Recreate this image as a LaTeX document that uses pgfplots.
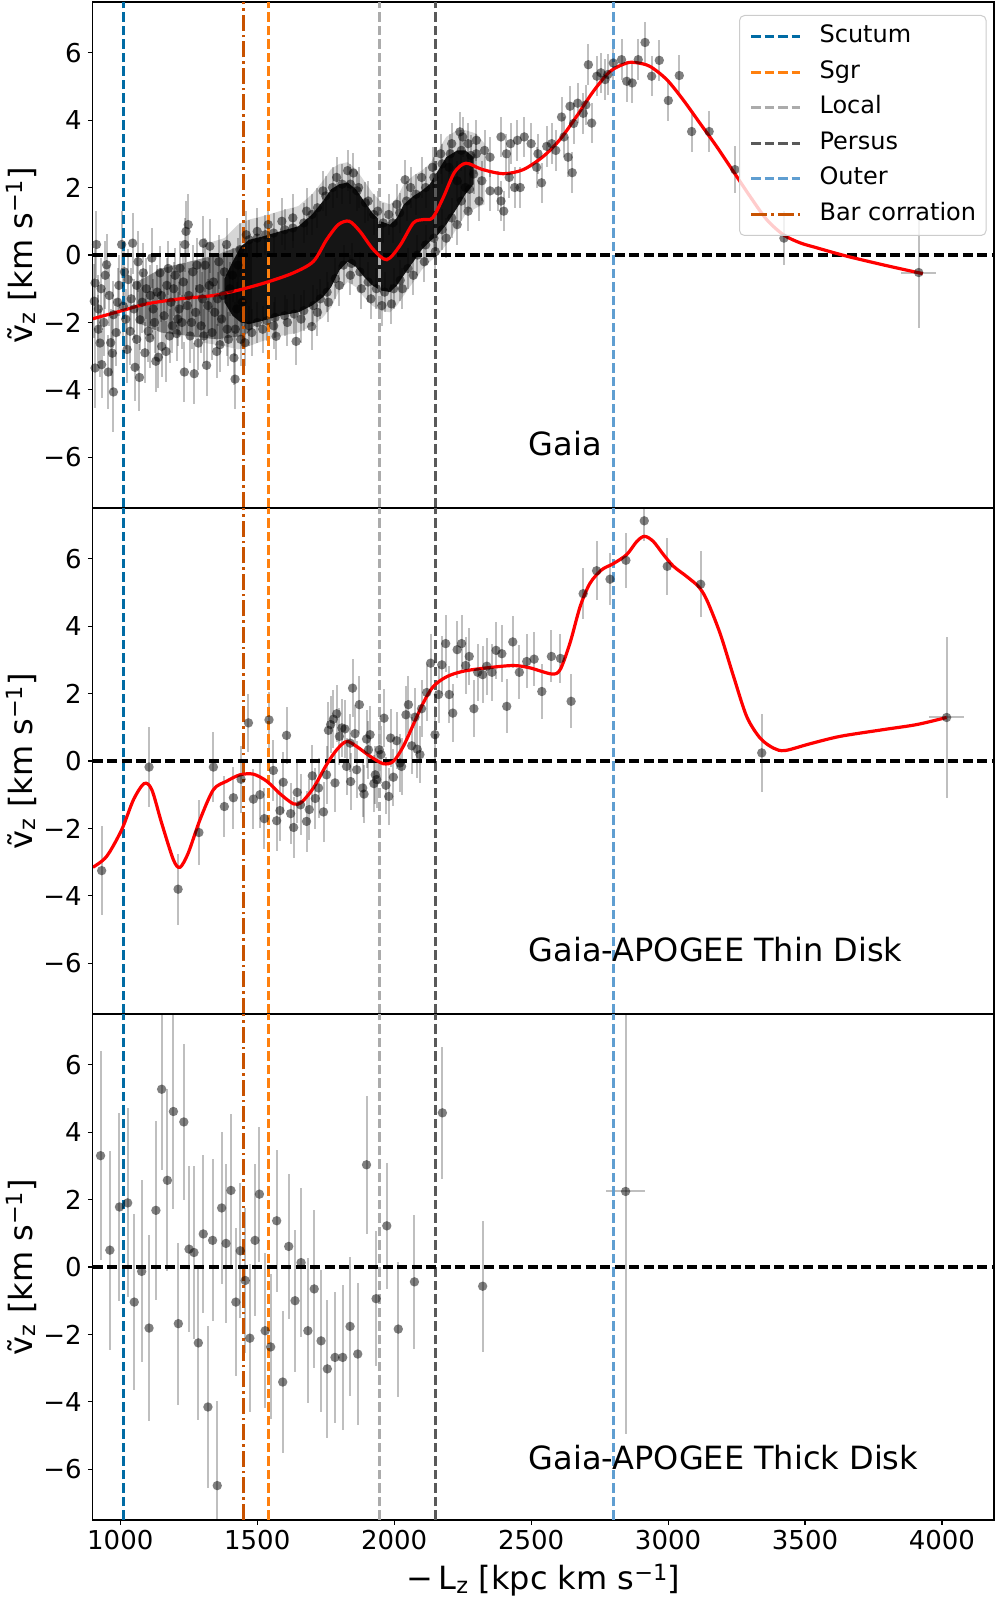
\documentclass[border=0pt]{standalone}
\usepackage{fontspec}
\setmainfont{DejaVu Sans}
\usepackage{pgfplots}
\pgfplotsset{compat=1.18}
\definecolor{cScutum}{HTML}{006BA4}
\definecolor{cSgr}{HTML}{FF800E}
\definecolor{cLocal}{HTML}{ABABAB}
\definecolor{cPersus}{HTML}{595959}
\definecolor{cOuter}{HTML}{5F9ED1}
\definecolor{cBar}{HTML}{C85200}
\newcommand{\fs}[1]{\fontsize{#1}{#1}\selectfont}
\pgfplotsset{
 panel/.style={
  scale only axis, width=901.1pt, height=506pt,
  xmin=900, xmax=4190, ymin=-7.5, ymax=7.5,
  axis line style={line width=1.1pt},
  ytick={-6,-4,-2,0,2,4,6}, yticklabels={−6,−4,−2,0,2,4,6},
  ytick pos=left, xtick pos=left,
  tick align=outside, major tick length=5pt,
  every tick/.style={black, line width=1.1pt},
  yticklabel style={font=\fs{26}, inner sep=0pt, xshift=-6pt},
  ylabel={ṽ\textsubscript{z} [km s\textsuperscript{−1}]},
  every axis y label/.style={at={(axis description cs:-0.0793,0.5)}, anchor=center, rotate=90, font=\fs{32}},
 },
 vl/.style={line width=3pt, dash pattern=on 9.5pt off 4pt},
 vldd/.style={line width=3pt, dash pattern=on 16pt off 4pt on 2.5pt off 4pt},
 zeroline/.style={black, line width=3.2pt, dash pattern=on 10pt off 4.5pt, forget plot},
 fitcurve/.style={red, line width=3.2pt, smooth, tension=0.5, forget plot},
 pts/.style={forget plot, only marks, mark=*, mark size=4.7pt, mark options={fill=black, fill opacity=0.5, draw opacity=0},
   error bars/.cd, y dir=both, y explicit, error mark=none, error bar style={line width=2pt, black, opacity=0.25}},
 ptsx/.style={forget plot, only marks, mark=*, mark size=4.7pt, mark options={fill=black, fill opacity=0.5, draw opacity=0},
   error bars/.cd, y dir=both, y explicit, x dir=both, x explicit, error mark=none, error bar style={line width=2pt, black, opacity=0.25}},
}
\newcommand{\armlines}{%
 \addplot[vl, cScutum, forget plot] coordinates {(1010,-7.5) (1010,7.5)};
 \addplot[vl, cSgr, forget plot] coordinates {(1540,-7.5) (1540,7.5)};
 \addplot[vl, cLocal, forget plot] coordinates {(1945,-7.5) (1945,7.5)};
 \addplot[vl, cPersus, forget plot] coordinates {(2150,-7.5) (2150,7.5)};
 \addplot[vl, cOuter, forget plot] coordinates {(2800,-7.5) (2800,7.5)};
 \addplot[vldd, cBar, forget plot] coordinates {(1450,-7.5) (1450,7.5)};
 \addplot[zeroline] coordinates {(900,0) (4190,0)};
}
\begin{document}
\begin{tikzpicture}
\useasboundingbox (0,0) rectangle (1000pt,1599pt);
% ================= Panel 1: Gaia =================
\begin{axis}[panel, at={(92.9pt,1091pt)}, anchor=south west, xtick=\empty,
  legend cell align=left,
  legend image code/.code={\draw[#1, line width=3pt] (0pt,0pt) -- (49pt,0pt);},
  legend style={at={(rel axis cs:1,1)}, anchor=north east, xshift=-7.4pt, yshift=-13pt,
    draw=black!20, line width=1pt, rounded corners=5pt, fill=white, fill opacity=0.8, text opacity=1,
    font=\fs{24}, inner xsep=10pt, inner ysep=10pt, row sep=13pt,
    nodes={inner sep=0pt, text height=17.5pt, text depth=5pt},
    /tikz/every odd column/.append style={column sep=18pt}}]
% error-bar haze around the dense core
\addplot[forget plot, fill=black, fill opacity=0.16, draw=none] coordinates {
(1300,0.3)(1380,0.5)(1430,0.9)(1470,1.05)(1520,1.15)(1583,1.3)(1650,1.45)(1700,1.8)(1740,2.2)(1770,2.55)(1800,2.7)(1830,2.75)(1860,2.55)(1890,2.2)(1920,1.85)(1950,1.6)(1985,1.5)(2010,1.7)(2035,2.1)(2070,2.35)(2100,2.5)(2130,2.7)(2160,3.1)(2190,3.5)(2230,3.7)(2260,3.7)(2300,3.6)(2330,3.3)
(2330,1.5)(2300,1.4)(2260,1.2)(2230,0.8)(2190,0.3)(2160,0.0)(2130,-0.2)(2100,-0.45)(2070,-0.8)(2035,-1.2)(2010,-1.5)(1985,-1.7)(1950,-1.65)(1920,-1.5)(1890,-1.25)(1860,-0.95)(1830,-0.8)(1800,-1.05)(1770,-1.55)(1740,-1.85)(1700,-2.1)(1650,-2.3)(1583,-2.4)(1520,-2.55)(1470,-2.7)(1430,-2.8)(1380,-2.7)(1300,-2.6)};
% crowded region on the left
\addplot[forget plot, fill=black, fill opacity=0.4, draw=none] coordinates {
(1060,-0.8)(1150,-0.4)(1250,-0.2)(1350,0.0)(1450,0.3)(1480,0.4)
(1480,-2.2)(1450,-2.4)(1350,-2.5)(1250,-2.4)(1150,-2.3)(1060,-2.0)};
% dense core
\addplot[forget plot, fill=black, fill opacity=0.9, draw=none] coordinates {
(1380,-0.7)(1410,-0.2)(1440,0.25)(1470,0.45)(1520,0.55)(1583,0.7)(1650,0.85)(1700,1.2)(1740,1.6)(1770,1.95)(1800,2.1)(1830,2.15)(1860,1.95)(1890,1.6)(1920,1.25)(1950,1.0)(1985,0.9)(2010,1.1)(2035,1.5)(2070,1.75)(2100,1.9)(2130,2.1)(2160,2.5)(2190,2.9)(2230,3.1)(2260,3.1)(2290,2.9)
(2290,2.1)(2260,1.8)(2230,1.4)(2190,0.9)(2160,0.6)(2130,0.4)(2100,0.15)(2070,-0.2)(2035,-0.6)(2010,-0.9)(1985,-1.1)(1950,-1.05)(1920,-0.9)(1890,-0.65)(1860,-0.35)(1830,-0.2)(1800,-0.45)(1770,-0.95)(1740,-1.25)(1700,-1.5)(1650,-1.7)(1583,-1.8)(1520,-1.95)(1470,-2.05)(1440,-2.0)(1410,-1.8)(1380,-1.4)};
\addplot[pts] table[x index=0, y index=1, y error index=2] {
913 0.31 1.0
950 -0.29 0.9
908 -0.83 1.0
930 -1.0 0.9
975 -1.77 1.0
905 -1.37 1.1
926 -2.61 1.0
971 -2.91 1.1
932 -3.25 1.0
908 -3.35 1.2
956 -3.47 1.1
975 -4.06 1.2
1005 0.31 1.0
1045 0.35 0.9
1029 -0.73 0.9
1084 -0.53 0.9
1011 -1.52 1.0
1036 -2.26 1.0
1072 -1.92 0.9
1054 -3.33 1.0
1070 -3.63 1.0
1102 -2.26 0.9
1108 -2.46 0.9
1115 -0.09 0.9
1145 -0.53 0.8
1151 -2.71 0.9
1139 -3.03 0.9
1130 -3.15 0.9
1167 -2.86 0.9
1206 -2.33 0.8
1218 -0.39 0.8
1234 -3.47 0.9
1240 0.70 0.9
1248 0.90 0.9
1270 -3.52 0.9
1285 -2.61 0.8
1315 -3.27 0.9
1236 0.31 0.8
1303 0.35 0.8
1327 0.26 0.8
1352 -2.86 0.8
1364 -2.66 0.8
1419 -3.68 0.9
1415 -3.05 0.8
1388 0.31 0.8
1437 0.16 0.8
1569 -2.41 0.7
1642 -2.56 0.7
1699 -2.12 0.7
920 -1.6 1.0
940 -2.0 1.0
960 -1.2 0.9
985 -2.3 1.0
995 -0.9 0.9
1020 -1.9 0.9
1040 -1.3 0.9
1060 -0.9 0.9
1060 -2.5 0.9
1080 -1.4 0.9
1095 -1.0 0.9
1120 -1.6 0.9
1125 -2.0 0.9
1135 -1.1 0.8
1160 -1.8 0.8
1170 -0.9 0.8
1185 -1.4 0.8
1190 -2.1 0.8
1200 -0.6 0.8
1215 -1.6 0.8
1225 -2.0 0.8
1250 -1.2 0.8
1255 -2.4 0.8
1265 -0.5 0.8
1275 -1.7 0.8
1290 -1.0 0.8
1295 -2.1 0.8
1310 -0.3 0.8
1320 -1.5 0.8
1335 -2.3 0.8
1340 -0.8 0.8
1355 -1.3 0.8
1370 -1.9 0.8
1380 -0.5 0.8
1395 -2.5 0.8
1400 -1.0 0.8
1420 -2.2 0.8
1430 -0.3 0.8
1445 -1.4 0.7
1455 -2.6 0.7
1150 -1.2 0.8
1175 -0.4 0.8
1180 -2.4 0.8
1195 -1.0 0.8
1210 -1.9 0.8
1230 -0.8 0.8
1245 -1.5 0.8
1260 -2.0 0.8
1280 -0.3 0.8
1300 -1.3 0.8
1305 -2.4 0.8
1325 -0.9 0.8
1345 -1.7 0.8
1360 -0.2 0.8
1375 -1.2 0.8
1390 -2.2 0.8
1410 -0.6 0.8
1425 -1.6 0.8
1440 -2.5 0.8
920 -2.2 1.0
945 -0.6 1.0
965 -2.6 1.0
990 -1.4 1.0
1015 -0.5 0.9
1025 -2.8 1.0
1050 -1.6 0.9
1065 -0.2 0.9
1090 -2.9 0.9
1110 -1.2 0.9
1460 0.6 0.7
1480 -2.3 0.7
1500 0.7 0.7
1520 -2.2 0.7
1540 0.9 0.7
1560 -2.1 0.7
1590 1.0 0.7
1610 -2.0 0.7
1630 1.1 0.7
1660 -1.9 0.7
1680 1.3 0.7
1720 -1.7 0.7
1740 1.9 0.6
1760 -1.4 0.6
1790 2.3 0.6
1800 -0.9 0.6
1830 2.5 0.6
1851 2.43 0.6
1840 -0.6 0.6
1870 2.0 0.6
1880 -1.0 0.6
1905 1.6 0.6
1915 -1.3 0.6
1940 1.3 0.6
1955 -1.5 0.6
1980 1.2 0.6
1990 -1.45 0.6
2010 1.5 0.6
2040 2.23 0.6
2030 -1.0 0.6
2060 2.0 0.6
2070 -0.6 0.6
2100 2.3 0.6
2110 -0.2 0.6
2140 2.6 0.6
2150 0.1 0.6
2170 3.0 0.6
2190 0.5 0.6
2210 3.3 0.6
2230 0.9 0.6
2250 3.5 0.6
2270 1.3 0.6
2300 3.4 0.6
2310 1.6 0.6
1470 0.45 0.6
1500 0.5 0.6
1530 0.6 0.6
1560 0.65 0.6
1600 0.75 0.6
1630 0.8 0.6
1670 0.95 0.6
1700 1.2 0.6
1720 1.4 0.6
1750 1.75 0.6
1775 2.0 0.6
1810 2.1 0.6
1840 2.1 0.6
1865 1.9 0.6
1895 1.55 0.6
1925 1.2 0.6
1960 0.95 0.6
1995 0.95 0.6
2020 1.25 0.6
2045 1.6 0.6
2080 1.8 0.6
2115 2.0 0.6
2145 2.3 0.6
2175 2.7 0.6
2205 3.0 0.6
2245 3.1 0.6
2280 2.95 0.6
1470 -2.1 0.6
1500 -2.0 0.6
1535 -1.95 0.6
1565 -1.85 0.6
1600 -1.8 0.6
1635 -1.75 0.6
1670 -1.65 0.6
1705 -1.5 0.6
1730 -1.3 0.6
1755 -1.1 0.6
1785 -0.7 0.6
1815 -0.3 0.6
1845 -0.25 0.6
1875 -0.5 0.6
1905 -0.8 0.6
1935 -1.0 0.6
1965 -1.1 0.6
1998 -1.0 0.6
2022 -0.75 0.6
2050 -0.4 0.6
2085 0.0 0.6
2115 0.3 0.6
2145 0.5 0.6
2175 0.75 0.6
2210 1.1 0.6
2245 1.6 0.6
2275 1.95 0.6
2200 2.6 0.6
2230 2.2 0.6
2260 2.0 0.6
2290 2.4 0.6
2320 2.2 0.6
2350 1.9 0.6
2390 1.6 0.6
2400 1.3 0.6
2380 1.9 0.6
2420 2.3 0.6
2440 2.0 0.6
2460 2.0 0.6
2240 3.65 0.6
2270 3.3 0.6
2300 3.0 0.6
2330 3.1 0.6
2350 2.9 0.6
2390 3.5 0.6
2410 3.0 0.6
2425 3.3 0.6
2450 3.4 0.6
2475 3.5 0.6
2500 3.3 0.6
2520 2.6 0.6
2525 3.0 0.6
2538 2.14 0.6
2557 3.22 0.6
2575 3.3 0.6
2590 3.1 0.6
2611 4.09 0.6
2620 3.5 0.6
2635 2.9 0.6
2650 2.44 0.6
2642 4.41 0.6
2655 3.9 0.6
2670 4.5 0.6
2690 4.2 0.6
2700 4.45 0.6
2721 3.91 0.6
2709 5.64 0.6
2740 5.3 0.6
2755 5.4 0.6
2770 5.2 0.6
2780 5.35 0.6
2800 5.69 0.6
2830 5.79 0.6
2849 5.15 0.6
2869 5.10 0.6
2891 5.79 0.6
2916 6.30 0.6
2940 5.30 0.6
2968 5.77 0.6
3001 4.58 0.6
3041 5.32 0.6
3086 3.66 0.6
3150 3.66 0.6
3244 2.53 0.7
3423 0.50 0.8
};
\addplot[ptsx] table[x index=0, y index=1, x error index=2, y error index=3] {
3915 -0.52 65 1.65
};
\addplot[vl, cScutum] coordinates {(1010,-7.5) (1010,7.5)}; \addlegendentry{Scutum}
\addplot[vl, cSgr] coordinates {(1540,-7.5) (1540,7.5)}; \addlegendentry{Sgr}
\addplot[vl, cLocal] coordinates {(1945,-7.5) (1945,7.5)}; \addlegendentry{Local}
\addplot[vl, cPersus] coordinates {(2150,-7.5) (2150,7.5)}; \addlegendentry{Persus}
\addplot[vl, cOuter] coordinates {(2800,-7.5) (2800,7.5)}; \addlegendentry{Outer}
\addplot[vldd, cBar] coordinates {(1450,-7.5) (1450,7.5)}; \addlegendentry{Bar corration}
\addplot[zeroline] coordinates {(900,0) (4190,0)};
\addplot[fitcurve] coordinates {
(900,-1.89)(1011,-1.64)(1096,-1.45)(1218,-1.30)(1340,-1.20)(1437,-1.03)(1534,-0.81)(1632,-0.53)(1705,-0.19)(1753,0.45)(1796,0.90)(1836,1.0)(1875,0.70)(1924,0.16)(1973,-0.14)(2021,0.28)(2070,0.95)(2106,1.05)(2140,1.10)(2179,1.70)(2220,2.45)(2262,2.72)(2320,2.54)(2398,2.41)(2471,2.53)(2544,2.92)(2605,3.42)(2666,4.11)(2727,4.85)(2788,5.44)(2849,5.69)(2885,5.70)(2934,5.59)(2995,5.20)(3055,4.60)(3116,3.91)(3177,3.22)(3238,2.48)(3299,1.74)(3360,1.05)(3421,0.60)(3482,0.36)(3540,0.22)(3600,0.08)(3650,-0.03)(3700,-0.13)(3800,-0.32)(3900,-0.50)(3930,-0.55)};
\node[anchor=west, inner sep=0pt, font=\fs{32}] at (axis cs:2491,-5.6) {Gaia};
\end{axis}
% ================= Panel 2: thin disk =================
\begin{axis}[panel, at={(92.9pt,585pt)}, anchor=south west, xtick=\empty]
\addplot[pts] table[x index=0, y index=1, y error index=2] {
932 -3.25 1.33
1105 -0.18 1.18
1211 -3.80 1.05
1287 -2.12 0.95
1340 -0.18 1.03
1380 -1.35 0.9
1413 -1.09 0.92
1441 -0.54 0.99
1468 1.13 0.85
1486 -1.13 0.9
1510 -1.00 0.98
1526 -1.71 0.9
1543 1.22 0.84
1559 -0.28 0.9
1571 -1.77 0.9
1583 -1.47 0.9
1595 -0.63 0.9
1607 0.76 0.84
1622 -1.56 0.9
1633 -1.97 0.9
1646 -0.93 0.9
1658 -1.30 0.9
1680 -1.79 0.9
1690 -1.44 0.9
1701 -0.44 0.9
1712 -1.11 0.9
1724 -0.80 0.9
1742 -1.51 0.9
1753 -0.41 0.85
1760 0.91 0.85
1768 1.08 0.85
1778 1.24 0.85
1790 1.40 0.85
1784 -0.65 0.85
1800 0.73 0.85
1809 0.98 0.85
1820 0.95 0.85
1826 -0.16 0.85
1839 0.53 0.85
1841 -0.61 0.85
1848 2.16 0.85
1857 0.81 0.85
1863 -0.26 0.85
1873 1.67 0.85
1885 -0.80 0.85
1890 -0.98 0.85
1899 0.65 0.85
1906 0.33 0.85
1912 0.78 0.85
1926 -0.67 0.85
1931 -0.41 0.85
1936 -0.55 0.85
1946 0.33 0.85
1952 0.19 0.85
1963 1.27 0.85
1970 -0.72 0.85
1980 -1.05 0.85
1987 0.68 0.85
1997 -0.48 0.85
2009 0.60 0.85
2021 -0.06 0.85
2027 -0.16 0.85
2043 1.37 0.85
2052 1.67 0.85
2064 0.45 0.85
2076 1.30 0.85
2084 0.35 0.85
2094 0.19 0.85
2100 1.55 0.85
2119 2.03 0.85
2133 2.90 0.85
2149 0.78 0.85
2162 1.97 0.85
2174 2.85 0.85
2188 3.48 0.85
2201 1.97 0.85
2214 1.42 0.85
2230 3.30 0.85
2246 3.48 0.85
2261 2.83 0.85
2274 3.10 0.85
2291 1.55 0.85
2305 2.63 0.85
2323 2.56 0.85
2338 2.81 0.85
2357 2.63 0.85
2372 3.28 0.85
2393 3.18 0.85
2411 1.62 0.8
2433 3.53 0.77
2457 2.63 0.8
2484 2.95 0.8
2511 3.02 0.8
2539 2.06 0.82
2574 3.10 0.77
2607 3.04 0.73
2646 1.77 0.8
2690 4.96 0.76
2739 5.64 0.87
2788 5.39 0.77
2846 5.95 0.82
2913 7.12 0.6
2997 5.77 0.84
3119 5.24 0.98
3342 0.24 1.16
};
\addplot[ptsx] table[x index=0, y index=1, x error index=2, y error index=3] {
4017 1.29 65 2.4
};
\armlines
\addplot[fitcurve] coordinates {
(900,-3.15)(950,-2.83)(1005,-2.04)(1048,-1.15)(1087,-0.67)(1115,-0.85)(1151,-1.84)(1194,-2.93)(1218,-3.15)(1248,-2.73)(1291,-1.74)(1340,-0.85)(1388,-0.60)(1437,-0.41)(1486,-0.39)(1535,-0.60)(1583,-0.97)(1632,-1.27)(1662,-1.22)(1705,-0.80)(1753,-0.11)(1790,0.33)(1826,0.58)(1863,0.43)(1912,0.14)(1960,-0.08)(1997,-0.01)(2033,0.43)(2070,1.08)(2106,1.72)(2143,2.21)(2192,2.50)(2252,2.66)(2337,2.76)(2435,2.83)(2496,2.76)(2575,2.58)(2606,2.71)(2642,3.50)(2679,4.58)(2715,5.27)(2758,5.67)(2800,5.85)(2849,6.12)(2886,6.51)(2914,6.66)(2946,6.51)(2983,6.12)(3020,5.77)(3068,5.47)(3111,5.17)(3141,4.78)(3190,3.78)(3239,2.51)(3287,1.32)(3336,0.68)(3385,0.38)(3427,0.31)(3518,0.51)(3628,0.73)(3786,0.93)(3908,1.08)(4017,1.29)};
\node[anchor=west, inner sep=0pt, font=\fs{32}] at (axis cs:2491,-5.6) {Gaia-APOGEE Thin Disk};
\end{axis}
% ================= Panel 3: thick disk =================
\begin{axis}[panel, at={(92.9pt,79pt)}, anchor=south west,
  xtick={1000,1500,2000,2500,3000,3500,4000},
  xticklabels={1000,1500,2000,2500,3000,3500,4000},
  xticklabel style={font=\fs{26}, inner sep=0pt, yshift=-5pt},
  xlabel={−\,L\textsubscript{z} [kpc km s\textsuperscript{−1}]},
  every axis x label/.style={at={(axis description cs:0.5,0)}, anchor=center, yshift=-60pt, font=\fs{32}}]
\addplot[pts] table[x index=0, y index=1, y error index=2] {
897 2.88 2.0
928 3.30 3.1
962 0.50 2.95
997 1.78 2.8
1027 1.90 2.8
1051 -1.04 2.6
1078 -0.13 2.7
1105 -1.81 2.75
1130 1.68 2.65
1151 5.27 2.4
1172 2.57 2.7
1194 4.61 2.9
1212 -1.68 2.4
1232 4.30 2.3
1251 0.53 2.45
1269 0.43 2.55
1285 -2.25 2.3
1303 0.98 2.35
1320 -4.15 2.4
1337 0.79 2.4
1354 -6.48 2.5
1370 1.75 2.25
1386 0.70 2.35
1404 2.27 2.27
1422 -1.04 2.2
1438 0.48 2.0
1456 -0.40 2.15
1473 -2.11 2.2
1492 0.79 2.25
1508 2.16 2.0
1529 -1.89 2.3
1549 -2.37 2.15
1571 1.37 2.1
1593 -3.41 2.1
1615 0.61 2.15
1638 -1.00 2.1
1660 0.13 2.2
1685 -1.89 2.15
1708 -0.65 2.35
1733 -2.19 2.1
1756 -3.02 2.05
1784 -2.68 1.95
1812 -2.68 2.15
1839 -1.76 2.05
1867 -2.58 2.1
1899 3.03 2.05
1934 -0.94 2.0
1973 1.22 1.87
2015 -1.84 2.0
2074 -0.44 1.98
2176 4.57 1.95
2323 -0.57 1.94
};
\addplot[ptsx] table[x index=0, y index=1, x error index=2, y error index=3] {
2845 2.24 72 7.2
};
\armlines
\node[anchor=west, inner sep=0pt, font=\fs{32}] at (axis cs:2491,-5.65) {Gaia-APOGEE Thick Disk};
\end{axis}
\end{tikzpicture}
\end{document}
